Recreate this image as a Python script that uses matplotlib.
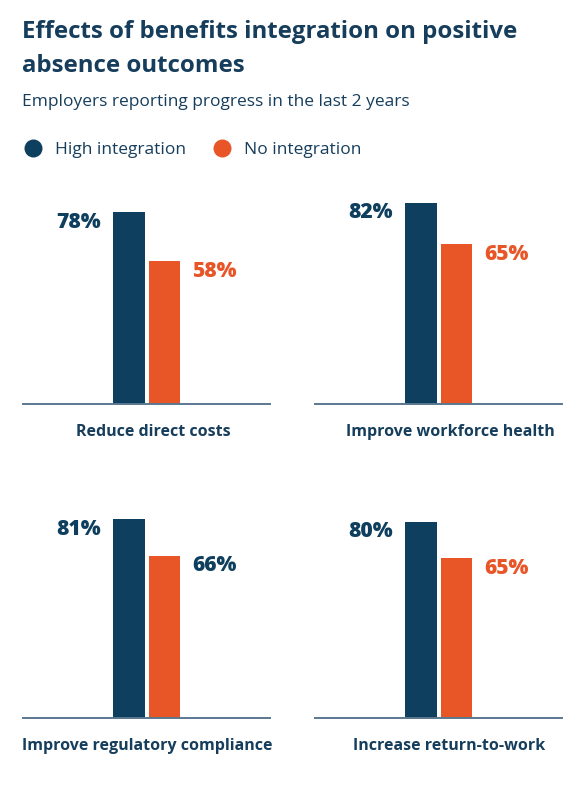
import matplotlib
matplotlib.use("Agg")
import matplotlib.pyplot as plt

# ---------------- data ----------------
categories = ["Reduce direct costs", "Improve workforce health",
              "Improve regulatory compliance", "Increase return-to-work"]
series_names = ["High integration", "No integration"]
high_integration = [78, 82, 81, 80]
no_integration = [58, 65, 66, 65]

title_lines = ["Effects of benefits integration on positive", "absence outcomes"]
subtitle = "Employers reporting progress in the last 2 years"

# ---------------- style ----------------
NAVY = "#0f3f5e"
ORANGE = "#e85628"
TEXT = "#163e5c"
AXIS = "#5a7890"
FONT = ["Open Sans", "DejaVu Sans"]
no_label_colors = [ORANGE, ORANGE, NAVY, ORANGE]

W, H = 576, 787
fig = plt.figure(figsize=(W / 100, H / 100), dpi=100)
fig.patch.set_facecolor("white")

bg = fig.add_axes([0, 0, 1, 1])
bg.set_xlim(0, W)
bg.set_ylim(H, 0)
bg.axis("off")

bg.text(22, 38.5, title_lines[0], fontsize=17.3, fontweight="bold", color=TEXT,
        family=FONT, ha="left", va="baseline")
bg.text(22, 72, title_lines[1], fontsize=17.3, fontweight="bold", color=TEXT,
        family=FONT, ha="left", va="baseline")
bg.text(22, 106.5, subtitle, fontsize=12.5, color=TEXT, family=FONT,
        ha="left", va="baseline")

legend_x = [33, 222]
for name, col, lx in zip(series_names, [NAVY, ORANGE], legend_x):
    bg.scatter([lx], [148], s=168, color=col, linewidths=0, zorder=3)
    bg.text(lx + 22, 154, name, fontsize=12.5, color=TEXT, family=FONT,
            ha="left", va="baseline")

# ---------------- panels ----------------
panel_left = [23, 315, 23, 315]
panel_base = [403.5, 403.5, 717.5, 717.5]
label_dx = [7, 12, 1, 11]
AX_W = 247
UNIT = 35.5
BAR_W = 31.5 / UNIT
HALF = AX_W / 2 / UNIT

for i, cat in enumerate(categories):
    x0, base = panel_left[i], panel_base[i]
    ax = fig.add_axes([x0 / W, (H - base) / H, AX_W / W, 245 / H])
    ax.set_xlim(-HALF, HALF)
    ax.set_ylim(0, 100)
    ax.patch.set_alpha(0)
    for s in ["top", "right", "left"]:
        ax.spines[s].set_visible(False)
    ax.spines["bottom"].set_color(AXIS)
    ax.spines["bottom"].set_linewidth(1.4)
    ax.spines["bottom"].set_zorder(5)
    ax.set_xticks([])
    ax.set_yticks([])

    vals = [high_integration[i], no_integration[i]]
    xs = [-0.5, 0.5]
    ax.bar(xs, vals, width=BAR_W, color=[NAVY, ORANGE], linewidth=0, zorder=2)

    ax.annotate(f"{vals[0]}%", xy=(xs[0] - BAR_W / 2, vals[0]),
                xytext=(-12, -15.5), textcoords="offset pixels",
                ha="right", va="baseline", fontsize=15.1, fontweight="heavy",
                color=NAVY, family=FONT)
    ax.annotate(f"{vals[1]}%", xy=(xs[1] + BAR_W / 2, vals[1]),
                xytext=(12, -15.5), textcoords="offset pixels",
                ha="left", va="baseline", fontsize=15.1, fontweight="heavy",
                color=no_label_colors[i], family=FONT)

    ax.annotate(cat, xy=(0.5, 0), xycoords="axes fraction",
                xytext=(label_dx[i], -32.5), textcoords="offset pixels",
                ha="center", va="baseline", fontsize=11.5, fontweight="bold",
                color=TEXT, family=FONT, annotation_clip=False)

fig.savefig("out.png", dpi=100, facecolor="white")
